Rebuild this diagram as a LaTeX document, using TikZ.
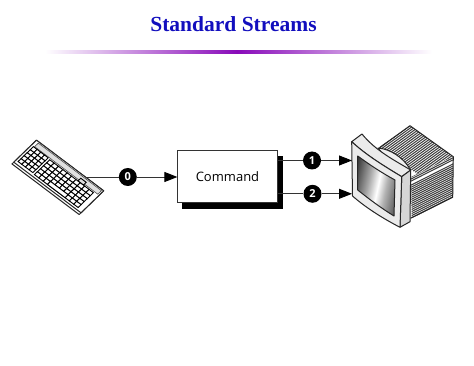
\documentclass[tikz,border=0pt]{standalone}
\usepackage{fontspec}
\setmainfont{Liberation Serif}
\newfontfamily\labelfont{Open Sans}
\usetikzlibrary{arrows.meta,shadows}
\pgfdeclarehorizontalshading{crtglass}{100bp}{
  color(0bp)=(black!85);
  color(25bp)=(black!85);
  color(42bp)=(black!35);
  color(52bp)=(white);
  color(60bp)=(black!30);
  color(75bp)=(black!70);
  color(100bp)=(black!70)}
\definecolor{titleblue}{RGB}{18,14,190}
\definecolor{rulepurple}{RGB}{136,10,185}
\tikzset{
  flowline/.style={draw=black!80,line width=0.9pt},
  flowarrow/.style={flowline,-{Triangle[length=13pt,width=10pt,color=black,fill=black]}},
  badge/.style={circle,fill=black,text=white,minimum size=18pt,inner sep=0pt,
    font=\labelfont\bfseries\fontsize{11}{11}\selectfont},
  cmdbox/.style={draw=black!80,line width=0.7pt,fill=white,minimum width=99.5pt,minimum height=52pt,
    inner sep=0pt,font=\labelfont\fontsize{13}{13}\selectfont,
    copy shadow={shadow xshift=5pt,shadow yshift=-5.5pt,fill=black,draw=black}},
  outline/.style={draw=black!85,line width=1pt,line join=round},
  keycap/.style={draw=black,line width=0.9pt,fill=white},
  hatch/.style={draw=black!75,line width=1.05pt}
}
% Block of keycaps on the slanted keyboard plane
\newcommand{\keyblock}[6]{%
  \foreach \i in {1,...,#3}{\foreach \j in {1,...,#4}{%
    \path[keycap] ({#1+(\i-1)*#5},{#2+(\j-1)*#6}) -- ({#1+\i*#5},{#2+(\j-1)*#6})
      -- ({#1+\i*#5},{#2+\j*#6}) -- ({#1+(\i-1)*#5},{#2+\j*#6}) -- cycle;}}}
\begin{document}
\begin{tikzpicture}[x=1pt,y=-1pt]
\useasboundingbox (0,0) rectangle (474,366);
\fill[white] (0,0) rectangle (474,366);

% Heading and the fading rule below it
\node[font=\bfseries\fontsize{21.5}{21.5}\selectfont,text=titleblue] (title) at (233.5,24) {Standard Streams};
\shade[left color=white,right color=rulepurple] (45,50.2) rectangle (237,53.2);
\shade[left color=rulepurple,right color=white] (237,50.2) rectangle (432,53.2);

% Keyboard: x runs along the long edge, y along the short edge
\begin{scope}[shift={(13.8,162.2)},x={(67.2pt,-50.6pt)},y={(22.7pt,22pt)}]
  \path[outline,fill=white] (0,0) -- (0,-0.08) -- (1,-0.08) -- (1,0) -- (1,1) -- (0,1) -- cycle;
  \path[outline,fill=white] (0,0) -- (1,0) -- (1,1) -- (0,1) -- cycle;
  \path[draw=black!70,line width=0.6pt,fill=black!12] (0.04,0.80) -- (0.98,0.80) -- (0.98,0.96) -- (0.04,0.96) -- cycle;
  \keyblock{0.03}{0.10}{4}{5}{0.055}{0.135}
  \keyblock{0.28}{0.08}{10}{5}{0.065}{0.135}
  \path[keycap] (0.475,0.08) -- (0.735,0.08) -- (0.735,0.215) -- (0.475,0.215) -- cycle;
  \path[keycap,fill=black!12] (0.70,0.76) -- (0.78,0.76) -- (0.78,0.88) -- (0.70,0.88) -- cycle;
  \coordinate (kbd) at (0.75,1);
\end{scope}

% Monitor: cooling fins on the top of the housing
\begin{scope}
  \clip (375,150) -- (410,125.7) -- (453.3,156.7) -- (411,177) -- cycle;
  \fill[white] (370,120) rectangle (460,225);
  \foreach \i in {0,...,27}{\draw[hatch] ({380+\i*1.75},{147.3+\i*1.25}) -- ({410+\i*1.75},{125.7+\i*1.25});}
\end{scope}
% Cooling fins on the side of the housing
\begin{scope}
  \clip (411,177) -- (453.3,156.7) -- (452.7,197.3) -- (411.7,218.3) -- cycle;
  \fill[white] (405,150) rectangle (460,225);
  \foreach \i in {0,...,21}{\ifnum\i=3\relax\else\draw[hatch] (411,{177+\i*2.05}) -- (453.5,{155.5+\i*2.05});\fi}
\end{scope}
\path[outline] (378,149) -- (410,125.7) -- (453.3,156.7) -- (452.7,197.3) -- (410.5,218.3);
% Crescent joining the housing to the bezel
\path[outline,fill=black!6] (378,148) .. controls (390,149) and (403,157) .. (410.7,170) -- (395,170) -- cycle;
% Bezel
\path[outline,fill=black!8] (351.7,141.7) -- (362,134) .. controls (375,150) and (392,159) .. (410.7,170)
  -- (401.7,176.7) .. controls (384,166) and (366,155) .. (351.7,141.7) -- cycle;
\path[outline,fill=black!16] (410.7,170) -- (410,221.7) -- (400,227.3) -- (401.7,176.7) -- cycle;
\path[outline,fill=black!8] (351.7,141.7) .. controls (366,155) and (384,166) .. (401.7,176.7) -- (400,227.3)
  .. controls (382,218) and (365,207) .. (352.5,196) -- cycle;
% Screen
\begin{scope}
  \clip (357.7,156) .. controls (370,165) and (382,173) .. (395,180) -- (394,216)
    .. controls (381,208) and (369,199) .. (357.7,190) -- cycle;
  \shade[shading=crtglass,shading angle=-12] (352,150) rectangle (400,220);
\end{scope}
\path[outline] (357.7,156) .. controls (370,165) and (382,173) .. (395,180) -- (394,216)
  .. controls (381,208) and (369,199) .. (357.7,190) -- cycle;
\coordinate (scrA) at (352,160.5);
\coordinate (scrB) at (352,193.8);

% Process box and the numbered stream markers
\node[cmdbox] (cmd) at (227.5,176.7) {\raisebox{-0.6pt}{Command}};
\node[badge] (zero) at (127.8,177) {0};
\node[badge] (one) at (312,160.5) {1};
\node[badge] (two) at (312.5,193.8) {2};

\draw[flowline] (zero.west -| kbd) -- (zero.west);
\draw[flowarrow] (zero.east) -- (cmd.west |- zero);
\draw[flowline] (one.west -| cmd.east) -- (one.west);
\draw[flowline] (two.west -| cmd.east) -- (two.west);
\draw[flowarrow] (one.east) -- (scrA);
\draw[flowarrow] (two.east) -- (scrB);
\end{tikzpicture}
\end{document}
